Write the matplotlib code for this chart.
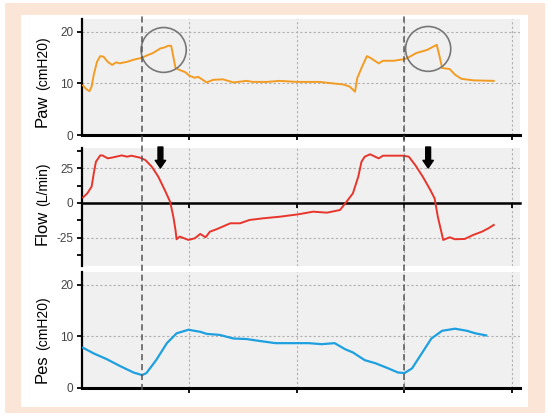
import numpy as np
import matplotlib.pyplot as plt
from matplotlib import transforms
from matplotlib.patches import Rectangle, Ellipse
from matplotlib.lines import Line2D

plt.rcParams['font.family'] = ['Liberation Sans', 'DejaVu Sans']

# airway pressure (cmH2O) vs time (s)
paw_t = [0.01, 0.04, 0.07, 0.09, 0.11, 0.14, 0.17, 0.20, 0.24, 0.28,
         0.32, 0.35, 0.42, 0.48, 0.56, 0.60, 0.66, 0.73, 0.77, 0.80,
         0.83, 0.85, 0.87, 0.91, 0.96, 1.00, 1.05, 1.08, 1.16, 1.22,
         1.31, 1.41, 1.53, 1.59, 1.72, 1.84, 2.00, 2.12, 2.21, 2.34,
         2.43, 2.49, 2.54, 2.56, 2.60, 2.65, 2.68, 2.76, 2.80, 2.90,
         2.96, 3.00, 3.05, 3.11, 3.21, 3.30, 3.33, 3.35, 3.42, 3.47,
         3.53, 3.64, 3.83]
paw = [9.6, 8.9, 8.5, 9.4, 11.7, 14.2, 15.3, 15.2, 14.2, 13.6,
       14.1, 13.9, 14.2, 14.6, 15.0, 15.4, 15.9, 16.8, 17.0, 17.3,
       17.3, 15.2, 13.0, 12.6, 12.2, 11.5, 11.1, 11.3, 10.2, 10.7,
       10.8, 10.2, 10.5, 10.3, 10.3, 10.5, 10.3, 10.3, 10.3, 10.0,
       9.8, 9.4, 8.4, 11.0, 13.0, 15.3, 15.0, 13.9, 14.4, 14.4,
       14.6, 14.7, 15.2, 15.9, 16.5, 17.5, 14.9, 13.0, 12.8, 11.7,
       10.9, 10.6, 10.5]

# flow (L/min)
flow_t = [0.01, 0.05, 0.09, 0.11, 0.13, 0.17, 0.19, 0.24, 0.29, 0.37,
          0.42, 0.46, 0.54, 0.59, 0.65, 0.71, 0.77, 0.82, 0.85, 0.87,
          0.88, 0.91, 0.99, 1.05, 1.10, 1.15, 1.19, 1.25, 1.38, 1.47,
          1.56, 1.69, 1.84, 2.01, 2.15, 2.28, 2.40, 2.45, 2.52, 2.57,
          2.60, 2.63, 2.68, 2.76, 2.80, 2.99, 3.04, 3.10, 3.17, 3.24,
          3.28, 3.31, 3.36, 3.42, 3.47, 3.56, 3.64, 3.72, 3.78, 3.83]
flow = [4.0, 6.9, 11.7, 21.2, 29.5, 34.0, 34.0, 31.9, 32.6, 34.0,
        33.1, 33.8, 32.4, 30.7, 25.9, 18.8, 9.3, 0.9, -9.8, -19.3,
        -25.9, -24.0, -26.4, -25.2, -22.1, -24.5, -20.5, -18.8, -14.5, -14.5,
        -12.1, -10.9, -9.8, -8.1, -6.2, -6.9, -5.0, -0.2, 6.9, 18.8,
        29.5, 33.1, 34.8, 31.9, 33.8, 33.8, 33.1, 27.1, 18.8, 9.3,
        3.3, -9.8, -26.4, -24.5, -25.9, -25.7, -22.8, -20.5, -18.1, -15.7]

# esophageal pressure (cmH2O)
pes_t = [0.01, 0.11, 0.23, 0.35, 0.48, 0.56, 0.60, 0.69, 0.79, 0.88,
         0.99, 1.10, 1.16, 1.28, 1.41, 1.53, 1.66, 1.80, 1.98, 2.11,
         2.23, 2.35, 2.45, 2.52, 2.63, 2.73, 2.85, 2.94, 3.00, 3.07,
         3.16, 3.25, 3.35, 3.47, 3.58, 3.66, 3.76]
pes = [7.8, 6.7, 5.6, 4.3, 3.0, 2.5, 2.9, 5.4, 8.7, 10.6,
       11.3, 10.9, 10.5, 10.3, 9.6, 9.5, 9.1, 8.7, 8.7, 8.7,
       8.5, 8.7, 7.5, 6.9, 5.4, 4.8, 3.8, 3.0, 2.9, 3.8,
       6.7, 9.6, 11.1, 11.5, 11.1, 10.6, 10.2]

x_ticks = [1, 2, 3, 4]
cycle_starts = [0.56, 3.0]
circle_centers = [(0.76, 16.5), (3.22, 16.7)]
arrow_x = [0.73, 3.22]

fig = plt.figure(figsize=(5.5, 4.19), dpi=100)
fig.patch.set_facecolor('white')
fig.patches.append(Rectangle((0.009, 0.014), 0.982, 0.979, transform=fig.transFigure,
                             facecolor='#FBE5D6', edgecolor='none', zorder=-10))
fig.patches.append(Rectangle((0.038, 0.029), 0.922, 0.936, transform=fig.transFigure,
                             facecolor='white', edgecolor='none', zorder=-9))

left, width = 0.149, 0.7964
ax1 = fig.add_axes([left, 0.6778, width, 0.2768])
ax2 = fig.add_axes([left, 0.3652, width, 0.2816])
ax3 = fig.add_axes([left, 0.0740, width, 0.2768])


def style_axes(ax, ylim, yticks, minor=None):
    ax.set_facecolor('#F0F0F0')
    ax.set_xlim(0, 4.074)
    ax.set_ylim(*ylim)
    ax.set_xticks(x_ticks)
    ax.set_xticklabels([])
    ax.set_yticks(yticks)
    if minor is not None:
        ax.set_yticks(minor, minor=True)
    ax.grid(True, color='#B0B0B0', linestyle=(0, (2, 2)), linewidth=0.8)
    ax.set_axisbelow(True)
    for s in ['top', 'right']:
        ax.spines[s].set_visible(False)
    ax.spines['left'].set_linewidth(1.6)
    ax.spines['bottom'].set_linewidth(2.2)
    ax.tick_params(axis='both', which='both', direction='out', length=3.5, width=1.3,
                   color='black', labelsize=8.5, labelcolor='#444444', pad=2.5)


style_axes(ax1, (0, 22.5), [0, 10, 20])
style_axes(ax2, (-45, 39.3), [-25, 0, 25], minor=[-37.5, -12.5, 12.5, 37.5])
style_axes(ax3, (0, 22.5), [0, 10, 20])
ax2.spines['bottom'].set_position(('data', 0))
ax2.spines['bottom'].set_linewidth(1.8)
ax2.set_yticklabels(['-25', '0', '25'])

ax1.plot(paw_t, paw, color='#F39C24', linewidth=1.4, zorder=3)
ax2.plot(flow_t, flow, color='#E8352C', linewidth=1.4, zorder=3)
ax3.plot(pes_t, pes, color='#1EA0E0', linewidth=1.6, zorder=3)

# circles on the end-inspiratory pressure
for cx, cy in circle_centers:
    ax1.add_patch(Ellipse((cx, cy), 0.42, 8.7, fill=False, edgecolor='#777777',
                          linewidth=1.2, zorder=4))

# arrows on the flow trace
for xa in arrow_x:
    ax2.annotate('', xy=(xa, 25), xytext=(xa, 40), annotation_clip=False,
                 arrowprops=dict(arrowstyle='simple,head_width=0.75,head_length=0.55,tail_width=0.35',
                                 color='black', mutation_scale=10, shrinkA=0, shrinkB=0))

# dashed lines marking the start of each cycle, across all panels
blend = transforms.blended_transform_factory(ax1.transData, fig.transFigure)
for xc in cycle_starts:
    fig.lines.append(Line2D([xc, xc], [0.069, 0.964], transform=blend, color='#555555',
                            linewidth=1.1, linestyle=(0, (4, 2.5)), zorder=5))

# y labels: big name + small unit right after it
labels = [('Paw', '(cmH20)', 127),
          ('Flow', '(L/min)', 245),
          ('Pes', '(cmH20)', 383)]
names = []
for name, unit, y_name in labels:
    t = fig.text(47 / 550, 1 - y_name / 419, name, rotation=90, rotation_mode='anchor',
                 ha='left', va='baseline', fontsize=12, color='black')
    names.append((t, unit))

fig.canvas.draw()
renderer = fig.canvas.get_renderer()
for t, unit in names:
    bb = t.get_window_extent(renderer)
    y_top = bb.y1 / fig.bbox.height + 4 / 419
    fig.text(47 / 550, y_top, unit, rotation=90, rotation_mode='anchor',
             ha='left', va='baseline', fontsize=10, color='black')

fig.savefig('out.png', dpi=100)
